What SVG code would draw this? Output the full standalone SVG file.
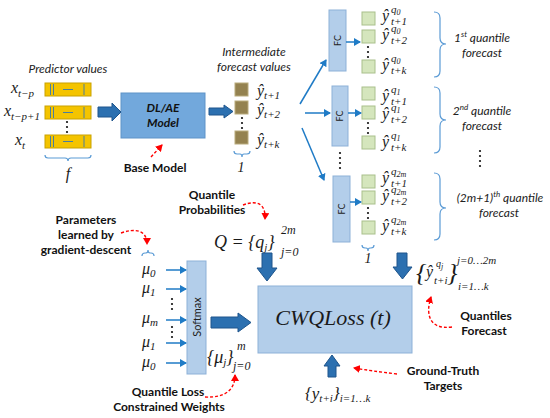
<svg xmlns="http://www.w3.org/2000/svg" width="550" height="418" viewBox="0 0 550 418">
<style>
.m{font-family:"Liberation Serif",serif;font-style:italic;fill:#1a1a1a}
.lb{font-family:Lato,"Liberation Sans",sans-serif;font-weight:bold;font-size:12px;fill:#111}
.li{font-family:Lato,"Liberation Sans",sans-serif;font-style:italic;font-size:12px;fill:#222}
.bar{fill:#F4C400;stroke:#C9A200;stroke-width:1}
.bin{stroke:#4A7E9E;stroke-width:1}
.brn{fill:#948250;stroke:#B9AB7C;stroke-width:1}
.grn{fill:#D5E6BD;stroke:#A9C08C;stroke-width:1}
.lbox{fill:#B3CEEA;stroke:#8DB1D8;stroke-width:1}
.big{fill:#2C70B0;stroke:#1E558C;stroke-width:1}
.thin{stroke:#1F7BC6;stroke-width:1.5;fill:none}
.red{stroke:#F00;stroke-width:1.4;stroke-dasharray:3 2;fill:none}
.brace{stroke:#5B9BD5;stroke-width:1.2;fill:none}
.dot{fill:#111}
.s11{font-size:11px}
.s8{font-size:8px}
</style>
<defs>
<marker id="ba" markerWidth="8" markerHeight="8" refX="6" refY="4" orient="auto" markerUnits="userSpaceOnUse"><path d="M0,0 L7,4 L0,8 Z" fill="#1F7BC6"/></marker>
<marker id="ra" markerWidth="8" markerHeight="8" refX="6" refY="4" orient="auto" markerUnits="userSpaceOnUse"><path d="M0,0 L7,4 L0,8 Z" fill="#F00"/></marker>
</defs>

<g id="predictors">
<text class="li" x="68" y="73" text-anchor="middle">Predictor values</text>
<rect class="bar" x="45" y="83" width="46" height="13"/>
<rect class="bar" x="45" y="106" width="46" height="13"/>
<rect class="bar" x="45" y="135" width="46" height="13"/>
<g class="bin">
<path d="M50.5,84v11M53.5,84v11M84,84v11M63,89.5h10"/>
<path d="M50.5,107v11M53.5,107v11M84,107v11M63,112.5h10"/>
<path d="M50.5,136v11M53.5,136v11M84,136v11M63,141.5h10"/>
</g>
<circle class="dot" cx="67" cy="122" r="1.1"/><circle class="dot" cx="67" cy="127" r="1.1"/><circle class="dot" cx="67" cy="132" r="1.1"/>
<text class="m" x="11" y="93" font-size="16">x<tspan class="s11" dy="4">t−p</tspan></text>
<text class="m" x="4" y="116" font-size="16">x<tspan class="s11" dy="4">t−p+1</tspan></text>
<text class="m" x="15" y="145" font-size="16">x<tspan class="s11" dy="4">t</tspan></text>
<path class="brace" d="M45,155 q0,3 3,3 h17 q3,0 3,3 q0,-3 3,-3 h17 q3,0 3,-3"/>
<text class="m" x="68" y="179" font-size="16" text-anchor="middle">f</text>
</g>

<g id="base-model">
<rect x="121" y="93" width="84" height="45" fill="#72A8DC" stroke="#5E93C8" stroke-width="1"/>
<text class="lb" x="163" y="112" text-anchor="middle" font-style="italic" font-size="13">DL/AE</text>
<text class="lb" x="163" y="127" text-anchor="middle" font-style="italic" font-size="13">Model</text>
<text class="lb" x="155" y="172" text-anchor="middle">Base Model</text>
</g>

<g id="intermediate">
<text class="li" x="254" y="56" text-anchor="middle">Intermediate</text>
<text class="li" x="254" y="71" text-anchor="middle">forecast values</text>
<rect class="brn" x="235" y="83" width="13" height="13"/>
<rect class="brn" x="235" y="101" width="13" height="13"/>
<rect class="brn" x="235" y="131" width="13" height="13"/>
<circle class="dot" cx="242" cy="118" r="1.1"/><circle class="dot" cx="242" cy="123" r="1.1"/><circle class="dot" cx="242" cy="128" r="1.1"/>
<text class="m" x="257" y="96" font-size="16">ŷ<tspan class="s11" dy="3">t+1</tspan></text>
<text class="m" x="257" y="115" font-size="16">ŷ<tspan class="s11" dy="3">t+2</tspan></text>
<text class="m" x="257" y="145" font-size="16">ŷ<tspan class="s11" dy="3">t+k</tspan></text>
<path class="brace" d="M234,151 q0,3 3,3 h3 q2,0 2,3 q0,-3 2,-3 h3 q3,0 3,-3"/>
<text class="m" x="241" y="172" font-size="14" text-anchor="middle" font-style="normal">1</text>
</g>

<g id="fc1">
<rect class="lbox" x="329" y="10" width="17" height="61"/>
<text x="337.5" y="40.5" font-family="Lato,sans-serif" font-size="9" fill="#222" text-anchor="middle" transform="rotate(-90 337.5 40.5)" dy="3">FC</text>
<rect class="grn" x="362" y="12" width="13" height="13"/>
<rect class="grn" x="362" y="30" width="13" height="13"/>
<rect class="grn" x="362" y="60" width="13" height="13"/>
<circle class="dot" cx="368" cy="47" r="1.1"/><circle class="dot" cx="368" cy="52" r="1.1"/><circle class="dot" cx="368" cy="57" r="1.1"/>
<text class="m" x="382" y="21" font-size="16">ŷ<tspan class="s11" x="391" y="13">q<tspan class="s8" dy="2">0</tspan></tspan><tspan class="s11" x="391" y="25">t+1</tspan></text>
<text class="m" x="382" y="40" font-size="16">ŷ<tspan class="s11" x="391" y="32">q<tspan class="s8" dy="2">0</tspan></tspan><tspan class="s11" x="391" y="44">t+2</tspan></text>
<text class="m" x="382" y="70" font-size="16">ŷ<tspan class="s11" x="391" y="62">q<tspan class="s8" dy="2">0</tspan></tspan><tspan class="s11" x="391" y="74">t+k</tspan></text>
<path class="brace" d="M434,12 q6,0 6,6 v20 q0,6 6,6 q-6,0 -6,6 v21 q0,6 -6,6"/>
<text class="li" x="482" y="42" text-anchor="middle">1<tspan class="s8" dy="-5">st</tspan><tspan dy="5"> quantile</tspan></text>
<text class="li" x="482" y="57" text-anchor="middle">forecast</text>
</g>

<g id="fc2">
<rect class="lbox" x="332" y="86" width="16" height="60"/>
<text x="340" y="116" font-family="Lato,sans-serif" font-size="9" fill="#222" text-anchor="middle" transform="rotate(-90 340 116)" dy="3">FC</text>
<rect class="grn" x="362" y="87" width="13" height="13"/>
<rect class="grn" x="362" y="106" width="13" height="13"/>
<rect class="grn" x="362" y="136" width="13" height="13"/>
<circle class="dot" cx="368" cy="123" r="1.1"/><circle class="dot" cx="368" cy="128" r="1.1"/><circle class="dot" cx="368" cy="133" r="1.1"/>
<text class="m" x="382" y="101" font-size="16">ŷ<tspan class="s11" x="391" y="93">q<tspan class="s8" dy="2">1</tspan></tspan><tspan class="s11" x="391" y="105">t+1</tspan></text>
<text class="m" x="382" y="119" font-size="16">ŷ<tspan class="s11" x="391" y="111">q<tspan class="s8" dy="2">1</tspan></tspan><tspan class="s11" x="391" y="123">t+2</tspan></text>
<text class="m" x="382" y="147" font-size="16">ŷ<tspan class="s11" x="391" y="139">q<tspan class="s8" dy="2">1</tspan></tspan><tspan class="s11" x="391" y="151">t+k</tspan></text>
<path class="brace" d="M434,87 q6,0 6,6 v21 q0,6 6,6 q-6,0 -6,6 v21 q0,6 -6,6"/>
<text class="li" x="482" y="115" text-anchor="middle">2<tspan class="s8" dy="-5">nd</tspan><tspan dy="5"> quantile</tspan></text>
<text class="li" x="482" y="130" text-anchor="middle">forecast</text>
<circle class="dot" cx="340" cy="153" r="1.1"/><circle class="dot" cx="340" cy="158" r="1.1"/><circle class="dot" cx="340" cy="163" r="1.1"/><circle class="dot" cx="340" cy="168" r="1.1"/>
<circle class="dot" cx="480" cy="151" r="1.1"/><circle class="dot" cx="480" cy="156" r="1.1"/><circle class="dot" cx="480" cy="161" r="1.1"/><circle class="dot" cx="480" cy="166" r="1.1"/>
</g>

<g id="fc3">
<rect class="lbox" x="333" y="176" width="17" height="66"/>
<text x="341.5" y="209" font-family="Lato,sans-serif" font-size="9" fill="#222" text-anchor="middle" transform="rotate(-90 341.5 209)" dy="3">FC</text>
<rect class="grn" x="362" y="175" width="13" height="13"/>
<rect class="grn" x="362" y="191" width="13" height="13"/>
<rect class="grn" x="362" y="221" width="13" height="13"/>
<circle class="dot" cx="368" cy="208" r="1.1"/><circle class="dot" cx="368" cy="213" r="1.1"/><circle class="dot" cx="368" cy="218" r="1.1"/>
<text class="m" x="382" y="183" font-size="16">ŷ<tspan class="s11" x="391" y="175">q<tspan class="s8" dy="2">2m</tspan></tspan><tspan class="s11" x="391" y="187">t+1</tspan></text>
<text class="m" x="382" y="201" font-size="16">ŷ<tspan class="s11" x="391" y="193">q<tspan class="s8" dy="2">2m</tspan></tspan><tspan class="s11" x="391" y="205">t+2</tspan></text>
<text class="m" x="382" y="231" font-size="16">ŷ<tspan class="s11" x="391" y="223">q<tspan class="s8" dy="2">2m</tspan></tspan><tspan class="s11" x="391" y="235">t+k</tspan></text>
<path class="brace" d="M434,173 q6,0 6,6 v23 q0,6 6,6 q-6,0 -6,6 v20 q0,6 -6,6"/>
<text class="li" x="500" y="202" text-anchor="middle">(2m+1)<tspan class="s8" dy="-5">th</tspan><tspan dy="5"> quantile</tspan></text>
<text class="li" x="499" y="217" text-anchor="middle">forecast</text>
<path class="brace" d="M362,245 q0,3 3,3 h1 q2,0 2,3 q0,-3 2,-3 h1 q3,0 3,-3"/>
<text class="m" x="368" y="263" font-size="14" text-anchor="middle" font-style="normal">1</text>
</g>

<g id="softmax">
<text class="lb" x="86" y="224" text-anchor="middle">Parameters</text>
<text class="lb" x="86" y="239" text-anchor="middle">learned by</text>
<text class="lb" x="86" y="254" text-anchor="middle">gradient-descent</text>
<path class="brace" d="M142,256 q0,-3 3,-3 h1 q2,0 2,-3 q0,3 2,3 h1 q3,0 3,3"/>
<text class="m" x="142" y="274" font-size="16">μ<tspan class="s11" dy="3">0</tspan></text>
<text class="m" x="142" y="293" font-size="16">μ<tspan class="s11" dy="3">1</tspan></text>
<text class="m" x="142" y="323" font-size="16">μ<tspan class="s11" dy="3">m</tspan></text>
<text class="m" x="142" y="347" font-size="16">μ<tspan class="s11" dy="3">1</tspan></text>
<text class="m" x="142" y="367" font-size="16">μ<tspan class="s11" dy="3">0</tspan></text>
<circle class="dot" cx="172" cy="299" r="1.1"/><circle class="dot" cx="172" cy="304" r="1.1"/><circle class="dot" cx="172" cy="309" r="1.1"/>
<circle class="dot" cx="172" cy="327" r="1.1"/><circle class="dot" cx="172" cy="332" r="1.1"/><circle class="dot" cx="172" cy="337" r="1.1"/>
<rect class="lbox" x="187" y="261" width="19" height="113"/>
<text x="196.5" y="317" font-family="Lato,sans-serif" font-size="11" fill="#222" text-anchor="middle" transform="rotate(-90 196.5 317)" dy="4">Softmax</text>
<text class="m" x="207" y="363" font-size="18">{μ<tspan class="s11" dy="3">j</tspan><tspan dy="-3">}</tspan><tspan font-size="12" x="237" y="350">m</tspan><tspan font-size="12" x="233" y="370">j=0</tspan></text>
<text class="lb" x="168" y="396" text-anchor="middle">Quantile Loss</text>
<text class="lb" x="169" y="411" text-anchor="middle">Constrained Weights</text>
</g>

<g id="quantile-probs">
<text class="lb" x="212" y="199" text-anchor="middle">Quantile</text>
<text class="lb" x="212" y="214" text-anchor="middle">Probabilities</text>
<text class="m" x="214" y="248" font-size="18">Q = {q<tspan class="s11" dy="3">j</tspan><tspan dy="-3">}</tspan><tspan font-size="12" x="281" y="234">2m</tspan><tspan font-size="12" x="281" y="256">j=0</tspan></text>
</g>

<g id="cwqloss">
<rect class="lbox" x="258" y="286" width="154" height="67"/>
<text class="m" x="333" y="325" font-size="22" text-anchor="middle">CWQLoss (t)</text>
<text class="m" x="305" y="399" font-size="17">{y<tspan class="s11" dy="3">t+i</tspan><tspan dy="-3">}</tspan><tspan class="s11" dy="3">i=1…k</tspan></text>
<text class="m" x="416" y="281" font-size="26">{<tspan font-size="16" x="426" y="277">ŷ</tspan><tspan font-size="10" x="436" y="267">q<tspan class="s8" dy="2">j</tspan></tspan><tspan class="s11" x="434" y="284">t+i</tspan><tspan x="447" y="281">}</tspan><tspan class="s11" x="457" y="264">j=0…2m</tspan><tspan class="s11" x="458" y="290">i=1…k</tspan></text>
<text class="lb" x="486" y="320" text-anchor="middle">Quantiles</text>
<text class="lb" x="484" y="335" text-anchor="middle">Forecast</text>
<text class="lb" x="443" y="375" text-anchor="middle">Ground-Truth</text>
<text class="lb" x="443" y="390" text-anchor="middle">Targets</text>
</g>

<g id="connectors">
<path class="big" d="M98,107 H112 V103 L121,112 L112,121 V117 H98 Z"/>
<path class="big" d="M209,108 H224 V105 L233,111.5 L224,118 V115 H209 Z"/>
<path class="big" d="M211,317 H238 V313 L251,322.5 L238,332 V328 H211 Z"/>
<path class="big" d="M262,253 H272 V268 H277 L267,281 L257,268 H262 Z"/>
<path class="big" d="M397,253 H407 V267 H412 L402.5,279 L393,267 H397 Z"/>
<path class="big" d="M328,377 V366 H324 L332,355 L340,366 H336 V377 Z"/>
<line class="thin" x1="300" y1="104" x2="326" y2="60" marker-end="url(#ba)"/>
<line class="thin" x1="305" y1="113" x2="330" y2="113" marker-end="url(#ba)"/>
<line class="thin" x1="302" y1="128" x2="324" y2="180" marker-end="url(#ba)"/>
<line class="thin" x1="346" y1="42" x2="360" y2="42" marker-end="url(#ba)"/>
<line class="thin" x1="348" y1="113" x2="361" y2="113" marker-end="url(#ba)"/>
<line class="thin" x1="350" y1="202" x2="361" y2="202" marker-end="url(#ba)"/>
<line class="thin" x1="166" y1="270" x2="186" y2="270" marker-end="url(#ba)"/>
<line class="thin" x1="166" y1="289" x2="186" y2="289" marker-end="url(#ba)"/>
<line class="thin" x1="166" y1="320" x2="186" y2="320" marker-end="url(#ba)"/>
<line class="thin" x1="166" y1="343" x2="186" y2="343" marker-end="url(#ba)"/>
<line class="thin" x1="166" y1="363" x2="186" y2="363" marker-end="url(#ba)"/>
<path class="red" d="M151,157 L162,145" marker-end="url(#ra)"/>
<path class="red" d="M243,205 C256,200 266,203 265,219" marker-end="url(#ra)"/>
<path class="red" d="M121,233 C135,228 147,230 147,244" marker-end="url(#ra)"/>
<path class="red" d="M205,397 C225,398 235,390 235,375" marker-end="url(#ra)"/>
<path class="red" d="M452,327 C430,330 425,315 431,297" marker-end="url(#ra)"/>
<path class="red" d="M397,374 C380,372 366,370 354,368" marker-end="url(#ra)"/>
</g>
</svg>
